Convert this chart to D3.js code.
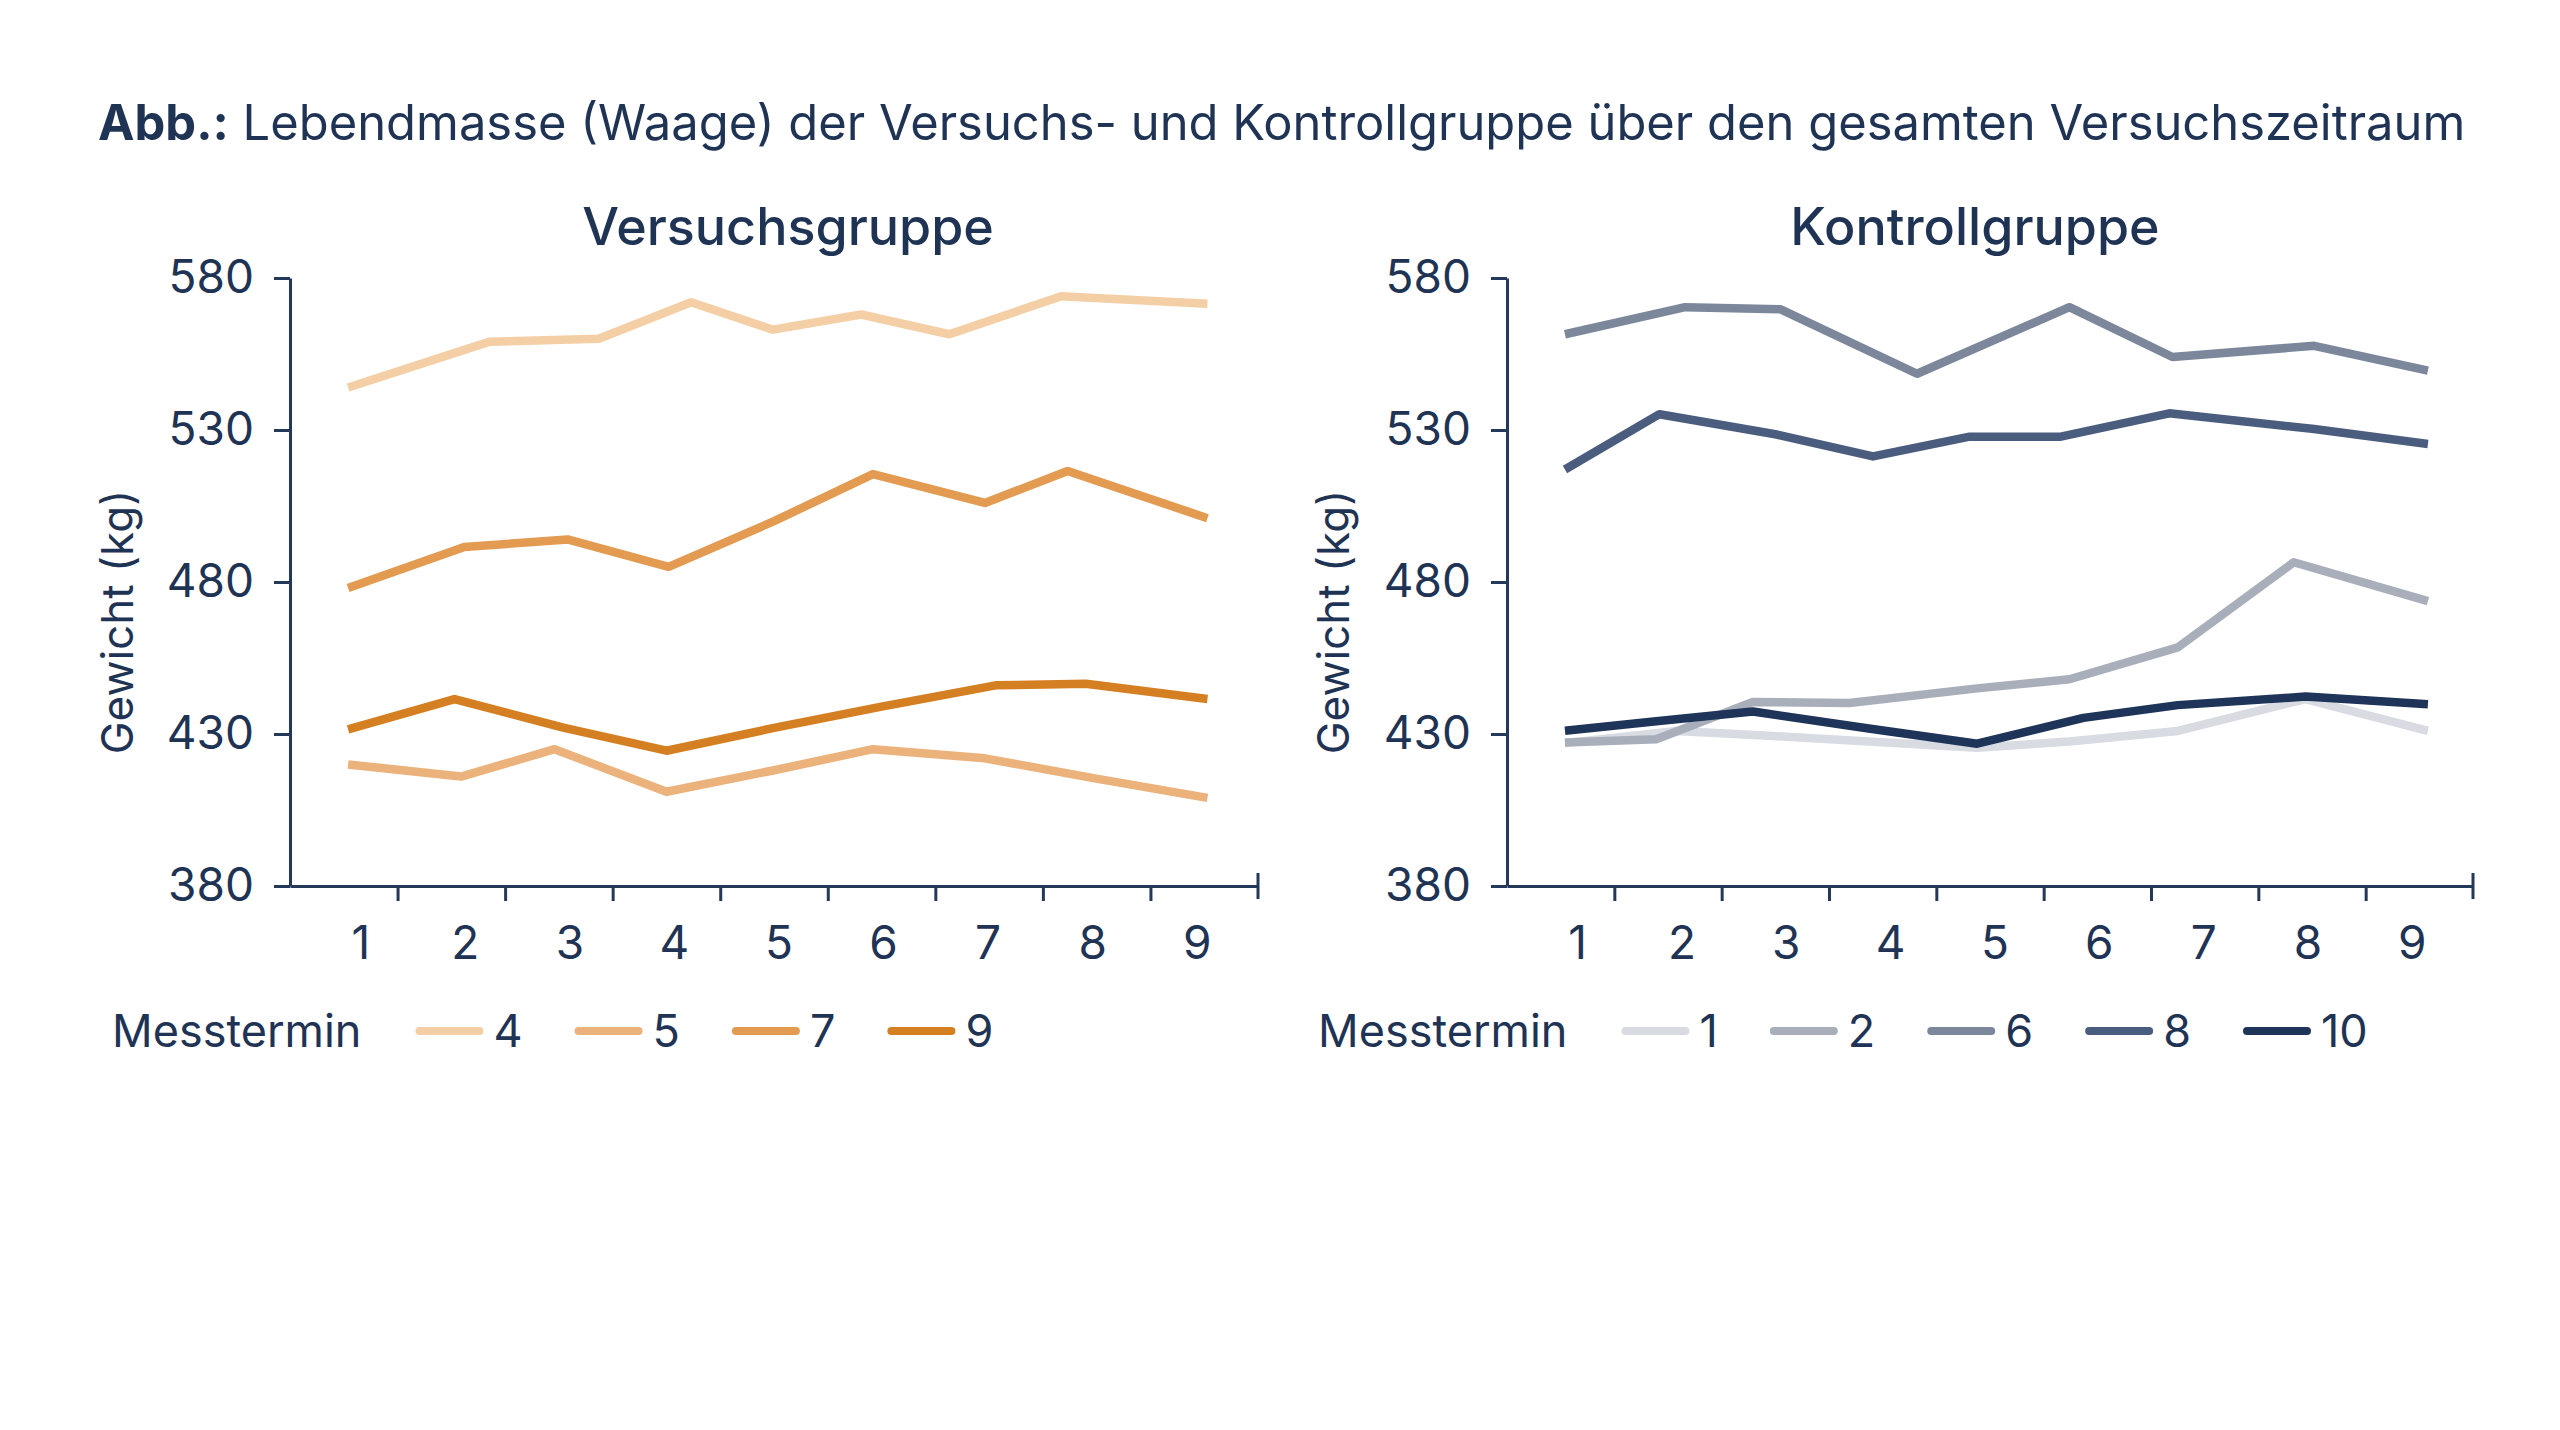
<!DOCTYPE html>
<html>
<head>
<meta charset="utf-8">
<script src="https://cdn.jsdelivr.net/npm/d3@7"></script>
<style>
  body { margin: 0; background: #fff; }
  svg text { font-family: Inter, "Noto Sans", sans-serif; fill: #1f3354; }
</style>
</head>
<body>
<div id="chart"></div>
<script>
// Kategorien / Achsen
const kategorien = [1, 2, 3, 4, 5, 6, 7, 8, 9];
const yTicks = [380, 430, 480, 530, 580];

// Versuchsgruppe: [Position, Gewicht]
const vgTermine = ["4", "5", "7", "9"];
const vg4 = [[1.04, 544], [2.35, 559], [3.37, 560], [4.23, 572], [4.99, 563], [5.81, 568], [6.63, 561.5], [7.67, 574], [9.03, 571.5]];
const vg5 = [[1.04, 420], [2.09, 416], [2.96, 425], [4.0, 411], [4.99, 418], [5.92, 425], [6.96, 422], [7.97, 415.5], [9.03, 409]];
const vg7 = [[1.04, 478], [2.12, 491.5], [3.08, 494], [4.02, 485], [5.0, 500], [5.92, 515.5], [6.96, 506], [7.73, 516.5], [9.03, 501]];
const vg9 = [[1.04, 431.5], [2.03, 441.5], [3.05, 432], [4.0, 424.5], [5.0, 432], [6.0, 439], [7.06, 446], [7.9, 446.5], [9.03, 441.5]];
const vgFarben = ["#f4cfa6", "#ecb27b", "#e39a51", "#d47f22"];

// Kontrollgruppe
const kgTermine = ["1", "2", "6", "8", "10"];
const kg1 = [[1.04, 427], [2.08, 431], [2.9, 429.5], [3.87, 427.5], [4.88, 425.5], [5.74, 427.5], [6.75, 431], [7.94, 441.5], [9.08, 431]];
const kg2 = [[1.04, 427.2], [1.89, 428.3], [2.79, 440.5], [3.69, 440.2], [4.88, 445], [5.74, 448], [6.75, 458.5], [7.83, 486.5], [9.08, 473.7]];
const kg6 = [[1.04, 561.5], [2.16, 570.4], [3.05, 569.7], [4.32, 548.5], [5.74, 570.4], [6.7, 554], [8.02, 557.7], [9.08, 549.5]];
const kg8 = [[1.04, 517], [1.92, 535.2], [3.0, 528.6], [3.91, 521.3], [4.81, 527.8], [5.66, 527.8], [6.67, 535.5], [8.02, 530.3], [9.08, 525.4]];
const kg10 = [[1.04, 431.1], [1.89, 434.2], [2.79, 437.4], [3.87, 431.8], [4.88, 426.8], [5.87, 435.3], [6.75, 439.5], [7.94, 442.3], [9.08, 439.8]];
const kgFarben = ["#d8dbe1", "#a9aebb", "#7c879b", "#4b5d7e", "#1f3459"];

const width = 2560, height = 1430;
const ink = "#1f3354";
const axisColor = "#24385a";

const svg = d3.select("#chart").append("svg")
    .attr("width", width)
    .attr("height", height)
    .attr("viewBox", [0, 0, width, height]);

// Titel
const title = svg.append("text")
    .attr("x", 98)
    .attr("y", 140)
    .attr("font-size", 50);
title.append("tspan").attr("font-weight", 700).text("Abb.:");
title.append("tspan").attr("font-weight", 400)
    .text(" Lebendmasse (Waage) der Versuchs- und Kontrollgruppe über den gesamten Versuchszeitraum");
// auf Breite der Vorlage bringen
const tw = title.node().getComputedTextLength();
title.attr("font-size", 50 * 2368 / tw);

function panel(opts) {
    const x = d3.scaleLinear().domain([0.5, 9.5]).range([opts.left, opts.right]);
    const y = d3.scaleLinear().domain([380, 580]).range([886, 278]);
    // Beschriftungen sitzen leicht eingerückt
    const xl = d3.scaleLinear().domain([1, 9]).range([x(1) + 17, x(9) - 7]);

    const g = svg.append("g");

    g.append("text")
        .attr("x", opts.titleX)
        .attr("y", 245)
        .attr("text-anchor", "middle")
        .attr("font-size", 52)
        .attr("font-weight", 500)
        .text(opts.title);

    // y-Achse
    g.append("g")
        .attr("transform", `translate(${opts.left},0)`)
        .call(d3.axisLeft(y).tickValues(yTicks).tickSize(16).tickPadding(20).tickSizeOuter(0))
        .call(a => a.select(".domain").attr("stroke", axisColor).attr("stroke-width", 3))
        .call(a => a.selectAll(".tick line").attr("stroke", axisColor).attr("stroke-width", 3))
        .call(a => a.selectAll(".tick text")
            .attr("font-size", 46)
            .attr("font-family", "Inter, sans-serif")
            .attr("fill", ink));

    // x-Achse: Striche zwischen den Kategorien
    g.append("g")
        .attr("transform", `translate(0,${y(380)})`)
        .call(d3.axisBottom(x).tickValues(kategorien.slice(0, 8).map(d => d + 0.5)).tickSize(15).tickSizeOuter(0).tickFormat(""))
        .call(a => a.select(".domain").attr("stroke", axisColor).attr("stroke-width", 3))
        .call(a => a.selectAll(".tick line").attr("stroke", axisColor).attr("stroke-width", 3));

    g.append("line")
        .attr("x1", x(9.5)).attr("x2", x(9.5))
        .attr("y1", y(380) - 13).attr("y2", y(380) + 13)
        .attr("stroke", axisColor).attr("stroke-width", 3);

    g.append("g")
        .selectAll("text")
        .data(kategorien)
        .join("text")
        .attr("x", d => xl(d))
        .attr("y", 943)
        .attr("dy", "0.35em")
        .attr("text-anchor", "middle")
        .attr("font-size", 46)
        .text(d => d);

    g.append("text")
        .attr("transform", `translate(${opts.yTitleX},622) rotate(-90)`)
        .attr("text-anchor", "middle")
        .attr("dy", "0.35em")
        .attr("font-size", 44)
        .text("Gewicht (kg)");

    const line = d3.line().x(d => x(d[0])).y(d => y(d[1]));

    g.append("g")
        .attr("fill", "none")
        .attr("stroke-width", 8.5)
        .attr("stroke-linejoin", "round")
        .selectAll("path")
        .data(opts.series)
        .join("path")
        .attr("stroke", (d, i) => opts.colors[i])
        .attr("d", line);

    // Legende
    const leg = g.append("g").attr("transform", `translate(${opts.legendX},1031)`);
    const lab = leg.append("text")
        .attr("x", 0)
        .attr("dy", "0.35em")
        .attr("font-size", 45)
        .text("Messtermin");
    let cx = lab.node().getComputedTextLength() + 54;
    opts.names.forEach((n, i) => {
        leg.append("line")
            .attr("x1", cx + 4).attr("x2", cx + 64)
            .attr("stroke", opts.colors[i])
            .attr("stroke-width", 8)
            .attr("stroke-linecap", "round");
        const t = leg.append("text")
            .attr("x", cx + 78)
            .attr("dy", "0.35em")
            .attr("font-size", 45)
            .text(n);
        cx += 78 + t.node().getComputedTextLength() + 52;
    });
}

panel({
    left: 290, right: 1258, titleX: 788, yTitleX: 118, legendX: 112,
    title: "Versuchsgruppe",
    names: vgTermine, colors: vgFarben,
    series: [vg4, vg5, vg7, vg9]
});

panel({
    left: 1507, right: 2473, titleX: 1975, yTitleX: 1334, legendX: 1318,
    title: "Kontrollgruppe",
    names: kgTermine, colors: kgFarben,
    series: [kg1, kg2, kg6, kg8, kg10]
});
</script>
</body>
</html>
